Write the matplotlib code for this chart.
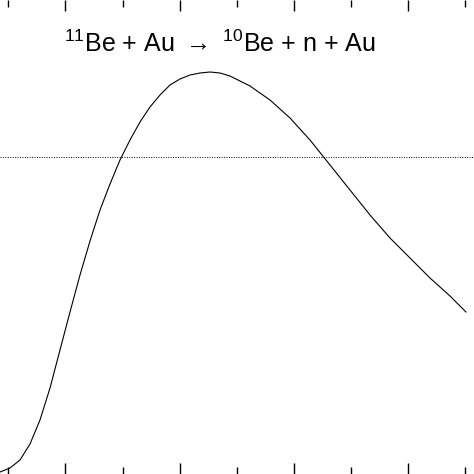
import matplotlib.pyplot as plt
import numpy as np

# curve (x in plot units, y = cross section, arbitrary units)
x_vals = [0, 10, 20, 30, 40, 50, 60, 70, 80, 90, 100, 110, 120, 130, 140, 150, 160, 170, 180,
          190, 200, 210, 220, 230, 240, 250, 270, 290, 310, 330, 350, 370, 390, 410, 430, 450, 466]
y_vals = [2, 6, 14, 30, 54, 86, 124, 162, 199, 233, 264, 290, 314, 334, 352, 367, 379, 389, 395,
          399, 401, 402, 401, 398, 393, 388, 374, 356, 334, 309, 284, 259, 236, 216, 196, 178, 162]
ref_level = 317

plt.rcParams['font.family'] = ['Liberation Sans', 'DejaVu Sans']
plt.rcParams['mathtext.fontset'] = 'custom'
plt.rcParams['mathtext.rm'] = 'Liberation Sans'
fig = plt.figure(figsize=(4.74, 4.74), dpi=100)
ax = fig.add_axes([0, 0, 1, 1])
ax.plot(x_vals, y_vals, color='black', lw=0.8)
ax.axhline(ref_level, color='black', lw=0.7, ls=(0, (1, 1.5)))
ax.set_xlim(0, 474)
ax.set_ylim(0, 474)
ax.set_xticks([65, 180, 294, 408])
ax.set_xticks([8, 123, 237, 351, 465], minor=True)
ax.tick_params(axis='x', which='major', direction='in', length=8, width=1, top=True, labelbottom=False)
ax.tick_params(axis='x', which='minor', direction='in', length=5, width=1, top=True)
ax.set_yticks([])
for s in ax.spines.values():
    s.set_visible(False)
ax.text(220, 430, r'$^{11}$Be + Au $\rightarrow$ $^{10}$Be + n + Au', ha='center', va='center', fontsize=18)
fig.savefig('out.png', dpi=100)
